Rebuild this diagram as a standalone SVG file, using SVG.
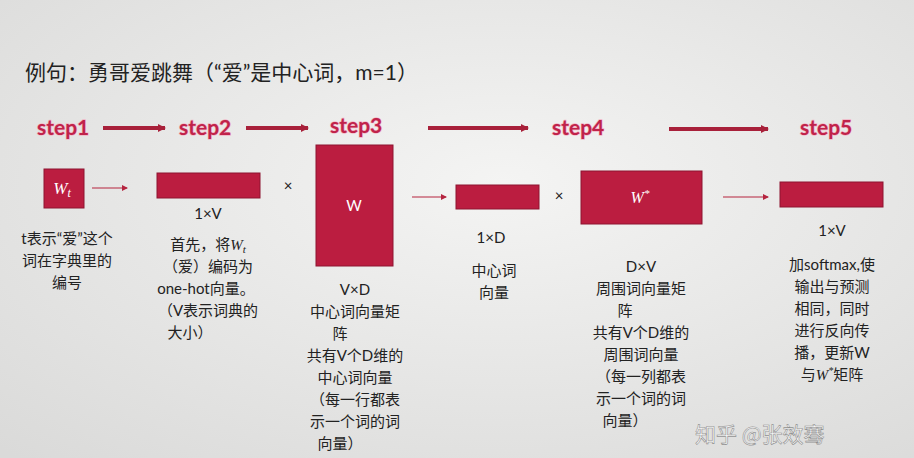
<svg xmlns="http://www.w3.org/2000/svg" width="914" height="458" viewBox="0 0 914 458">
<defs>
<radialGradient id="bg" cx="0.55" cy="0.4" r="0.8"><stop offset="0" stop-color="#f4f4f3"/><stop offset="1" stop-color="#dadad9"/></radialGradient>
<marker id="ah" markerWidth="6" markerHeight="6" refX="5" refY="3" orient="auto" markerUnits="userSpaceOnUse"><path d="M0,0 L6,3 L0,6 Z" fill="#b5243f"/></marker>
<marker id="ahb" markerWidth="8" markerHeight="8" refX="7" refY="4" orient="auto" markerUnits="userSpaceOnUse"><path d="M0,0 L8,4 L0,8 Z" fill="#a8203a"/></marker>
</defs>
<style>
.box{fill:#bb1d40;stroke:#8e1530;stroke-width:1}
.step{font-family:"Lato","Open Sans",sans-serif;font-weight:bold;font-size:21px;fill:#c0234a;stroke:#f2b6c6;stroke-width:1.3;paint-order:stroke}
.t{font-family:"Lato","Noto Sans CJK SC",sans-serif;font-size:15px;fill:#222;text-anchor:middle}
.w{font-family:"Liberation Serif","Noto Sans CJK SC",serif;font-style:italic;fill:#fff;text-anchor:middle}
.big{stroke:#a8203a;stroke-width:4;marker-end:url(#ahb)}
.sm{stroke:#b5243f;stroke-width:1.2;marker-end:url(#ah)}
</style>
<rect width="914" height="458" fill="url(#bg)"/>
<text x="25" y="80" font-family="Lato,'Noto Sans CJK SC',sans-serif" font-size="21" fill="#222">例句：勇哥爱跳舞（“爱”是中心词，m=1）</text>
<g id="steps">
<text class="step" x="37" y="135">step1</text>
<text class="step" x="179" y="135">step2</text>
<text class="step" x="330" y="133">step3</text>
<text class="step" x="552" y="135">step4</text>
<text class="step" x="800" y="135">step5</text>
</g>
<g id="connectors">
<line class="big" x1="103" y1="128" x2="165" y2="128"/>
<line class="big" x1="246" y1="128" x2="308" y2="128"/>
<line class="big" x1="428" y1="128" x2="528" y2="128"/>
<line class="big" x1="669" y1="129" x2="768" y2="129"/>
<line class="sm" x1="92" y1="188" x2="127" y2="188"/>
<line class="sm" x1="412" y1="197" x2="446" y2="197"/>
<line class="sm" x1="723" y1="197" x2="768" y2="197"/>
</g>
<g id="n1"><rect class="box" x="44" y="169" width="40" height="39"/><text class="w" x="62" y="194" font-size="17">W<tspan font-size="12" dy="3">t</tspan></text>
<text class="t" x="67" y="244">t表示“爱”这个</text><text class="t" x="67" y="266">词在字典里的</text><text class="t" x="67" y="288">编号</text></g>
<g id="n2"><rect class="box" x="157" y="173" width="103" height="25"/><text class="t" x="208" y="219">1×V</text>
<text class="t" x="208" y="250">首先，将<tspan font-family="Liberation Serif" font-style="italic">W<tspan font-size="11" dy="3">t</tspan></tspan></text>
<text class="t" x="208" y="272">（爱）编码为</text><text class="t" x="206" y="294">one-hot向量。</text><text class="t" x="208" y="316">（V表示词典的</text><text class="t" x="190" y="338">大小）</text></g>
<text class="t" x="288" y="191" font-size="13">×</text>
<g id="n3"><rect class="box" x="316" y="145" width="77" height="121"/><text x="354" y="211" fill="#fff" font-family="Lato,sans-serif" font-size="15" text-anchor="middle">W</text>
<text class="t" x="355" y="295">V×D</text><text class="t" x="355" y="317">中心词向量矩</text><text class="t" x="340" y="339">阵</text><text class="t" x="355" y="361">共有V个D维的</text><text class="t" x="355" y="383">中心词向量</text><text class="t" x="355" y="405">（每一行都表</text><text class="t" x="355" y="427">示一个词的词</text><text class="t" x="340" y="449">向量）</text></g>
<g id="n4"><rect class="box" x="456" y="185" width="83" height="24"/><text class="t" x="491" y="243">1×D</text>
<text class="t" x="494" y="276">中心词</text><text class="t" x="494" y="298">向量</text></g>
<text class="t" x="559" y="201" font-size="13">×</text>
<g id="n5"><rect class="box" x="581" y="171" width="121" height="53"/><text class="w" x="640" y="203" font-size="16">W<tspan font-size="11" dy="-6">*</tspan></text>
<text class="t" x="641" y="272">D×V</text><text class="t" x="641" y="294">周围词向量矩</text><text class="t" x="625" y="316">阵</text><text class="t" x="641" y="338">共有V个D维的</text><text class="t" x="641" y="360">周围词向量</text><text class="t" x="641" y="382">（每一列都表</text><text class="t" x="641" y="404">示一个词的词</text><text class="t" x="625" y="426">向量）</text></g>
<g id="n6"><rect class="box" x="780" y="182" width="103" height="25"/><text class="t" x="832" y="236">1×V</text>
<text class="t" x="832" y="270">加softmax,使</text><text class="t" x="832" y="292">输出与预测</text><text class="t" x="832" y="314">相同，同时</text><text class="t" x="832" y="336">进行反向传</text><text class="t" x="832" y="358">播，更新W</text><text class="t" x="832" y="380">与<tspan font-family="Liberation Serif" font-style="italic">W<tspan font-size="10" dy="-6">*</tspan></tspan><tspan dy="6">矩阵</tspan></text></g>
<text x="695" y="442" font-family="'Noto Sans CJK SC',sans-serif" font-size="21" fill="#fff" stroke="#888" stroke-width="0.6" opacity="0.9">知乎 @张效骞</text>
</svg>
